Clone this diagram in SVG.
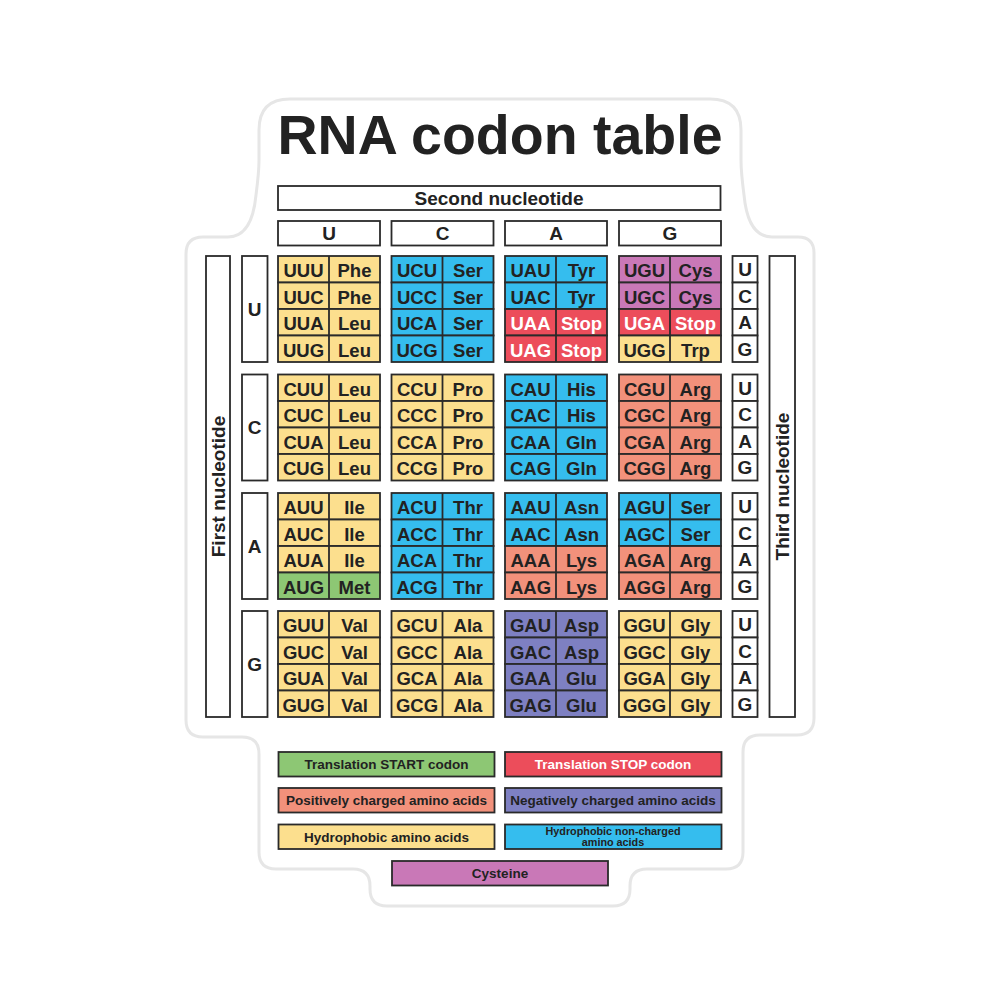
<svg xmlns="http://www.w3.org/2000/svg" width="1000" height="1000" viewBox="0 0 1000 1000">
<style>
.bg{fill:#fff}
.sticker{fill:#fff;stroke:#e6e6e6;stroke-width:3;stroke-linejoin:round}
.box{fill:#fff;stroke:#2a2a2a;stroke-width:1.8}
.c{stroke:#2a2a2a;stroke-width:1.8}
.ln{stroke:#2a2a2a;stroke-width:1.8}
.hy{fill:#fcdf8e}
.hn{fill:#35bdee}
.st{fill:#ec4d5b}
.po{fill:#f2917b}
.ne{fill:#7e80c2}
.cy{fill:#c978b7}
.sa{fill:#8dc774}
text{font-family:"Liberation Sans",Arial,sans-serif;font-weight:bold;fill:#222;text-anchor:middle}
.t{font-size:18.5px}
.w{font-size:18.5px;fill:#fff}
.h{font-size:19px}
.lg{font-size:13.5px}
.lgw{font-size:13.5px;fill:#fff}
.lgs{font-size:10.8px}
</style>
<rect class="bg" x="0" y="0" width="1000" height="1000"/>
<path class="sticker" d="M290 99 L710 99 Q741 99 741 130 L741 160 Q741 172 744 195 Q748 237 772 237 L798 237 Q814 237 814 253 L814 718 Q814 735 797 735 L760 735 Q743 735 743 752 L743 852 Q743 869 726 869 L647 869 Q630 869 630 886 L630 889 Q630 906 613 906 L387 906 Q370 906 370 889 L370 886 Q370 869 353 869 L276 869 Q259 869 259 852 L259 754 Q259 737 242 737 L203 737 Q186 737 186 720 L186 254 Q186 237 203 237 L228 237 Q252 237 256 195 Q259 172 259 160 L259 130 Q259 99 290 99 Z"/>
<g id="title"><text x="500" y="154" style="font-size:55.5px">RNA codon table</text></g>
<g id="second-nucleotide"><rect class="box" x="278" y="186" width="442.5" height="24"/><text class="h" x="499" y="204.5">Second nucleotide</text></g>
<g id="col-headers">
<rect class="box" x="278" y="221" width="102" height="24.5"/><text class="h" x="329" y="240">U</text>
<rect class="box" x="391.5" y="221" width="102" height="24.5"/><text class="h" x="442.5" y="240">C</text>
<rect class="box" x="505" y="221" width="102" height="24.5"/><text class="h" x="556" y="240">A</text>
<rect class="box" x="619" y="221" width="102" height="24.5"/><text class="h" x="670" y="240">G</text>
</g>
<g id="first-nucleotide"><rect class="box" x="206" y="256" width="24" height="461"/><text class="h" transform="translate(225 486.5) rotate(-90)">First nucleotide</text></g>
<g id="third-nucleotide"><rect class="box" x="769.5" y="256" width="25.5" height="461"/><text class="h" transform="translate(789 486.5) rotate(-90)">Third nucleotide</text></g>
<g id="first-letters">
<rect class="box" x="242" y="256" width="25.5" height="106"/><text class="h" x="254.7" y="315.5">U</text>
<rect class="box" x="242" y="374.5" width="25.5" height="106"/><text class="h" x="254.7" y="434">C</text>
<rect class="box" x="242" y="493" width="25.5" height="106"/><text class="h" x="254.7" y="552.5">A</text>
<rect class="box" x="242" y="611" width="25.5" height="106"/><text class="h" x="254.7" y="670.5">G</text>
</g>
<g id="third-letters">
<rect class="box" x="732.5" y="256" width="25" height="26.5"/><text class="h" x="745" y="276">U</text>
<rect class="box" x="732.5" y="282.5" width="25" height="26.5"/><text class="h" x="745" y="302.5">C</text>
<rect class="box" x="732.5" y="309" width="25" height="26.5"/><text class="h" x="745" y="329">A</text>
<rect class="box" x="732.5" y="335.5" width="25" height="26.5"/><text class="h" x="745" y="355.5">G</text>
<rect class="box" x="732.5" y="374.5" width="25" height="26.5"/><text class="h" x="745" y="394.5">U</text>
<rect class="box" x="732.5" y="401" width="25" height="26.5"/><text class="h" x="745" y="421">C</text>
<rect class="box" x="732.5" y="427.5" width="25" height="26.5"/><text class="h" x="745" y="447.5">A</text>
<rect class="box" x="732.5" y="454" width="25" height="26.5"/><text class="h" x="745" y="474">G</text>
<rect class="box" x="732.5" y="493" width="25" height="26.5"/><text class="h" x="745" y="513">U</text>
<rect class="box" x="732.5" y="519.5" width="25" height="26.5"/><text class="h" x="745" y="539.5">C</text>
<rect class="box" x="732.5" y="546" width="25" height="26.5"/><text class="h" x="745" y="566">A</text>
<rect class="box" x="732.5" y="572.5" width="25" height="26.5"/><text class="h" x="745" y="592.5">G</text>
<rect class="box" x="732.5" y="611" width="25" height="26.5"/><text class="h" x="745" y="631">U</text>
<rect class="box" x="732.5" y="637.5" width="25" height="26.5"/><text class="h" x="745" y="657.5">C</text>
<rect class="box" x="732.5" y="664" width="25" height="26.5"/><text class="h" x="745" y="684">A</text>
<rect class="box" x="732.5" y="690.5" width="25" height="26.5"/><text class="h" x="745" y="710.5">G</text>
</g>

<!-- Column U -->
<g id="block-UU">
<rect class="c hy" x="278" y="256" width="102" height="26.5"/><rect class="c hy" x="278" y="282.5" width="102" height="26.5"/><rect class="c hy" x="278" y="309" width="102" height="26.5"/><rect class="c hy" x="278" y="335.5" width="102" height="26.5"/>
<line class="ln" x1="329" y1="256" x2="329" y2="362"/>
<text class="t" x="303.5" y="277">UUU</text><text class="t" x="354.5" y="277">Phe</text>
<text class="t" x="303.5" y="303.5">UUC</text><text class="t" x="354.5" y="303.5">Phe</text>
<text class="t" x="303.5" y="330">UUA</text><text class="t" x="354.5" y="330">Leu</text>
<text class="t" x="303.5" y="356.5">UUG</text><text class="t" x="354.5" y="356.5">Leu</text>
</g>
<g id="block-CU">
<rect class="c hy" x="278" y="374.5" width="102" height="26.5"/><rect class="c hy" x="278" y="401" width="102" height="26.5"/><rect class="c hy" x="278" y="427.5" width="102" height="26.5"/><rect class="c hy" x="278" y="454" width="102" height="26.5"/>
<line class="ln" x1="329" y1="374.5" x2="329" y2="480.5"/>
<text class="t" x="303.5" y="395.5">CUU</text><text class="t" x="354.5" y="395.5">Leu</text>
<text class="t" x="303.5" y="422">CUC</text><text class="t" x="354.5" y="422">Leu</text>
<text class="t" x="303.5" y="448.5">CUA</text><text class="t" x="354.5" y="448.5">Leu</text>
<text class="t" x="303.5" y="475">CUG</text><text class="t" x="354.5" y="475">Leu</text>
</g>
<g id="block-AU">
<rect class="c hy" x="278" y="493" width="102" height="26.5"/><rect class="c hy" x="278" y="519.5" width="102" height="26.5"/><rect class="c hy" x="278" y="546" width="102" height="26.5"/><rect class="c sa" x="278" y="572.5" width="102" height="26.5"/>
<line class="ln" x1="329" y1="493" x2="329" y2="599"/>
<text class="t" x="303.5" y="514">AUU</text><text class="t" x="354.5" y="514">Ile</text>
<text class="t" x="303.5" y="540.5">AUC</text><text class="t" x="354.5" y="540.5">Ile</text>
<text class="t" x="303.5" y="567">AUA</text><text class="t" x="354.5" y="567">Ile</text>
<text class="t" x="303.5" y="593.5">AUG</text><text class="t" x="354.5" y="593.5">Met</text>
</g>
<g id="block-GU">
<rect class="c hy" x="278" y="611" width="102" height="26.5"/><rect class="c hy" x="278" y="637.5" width="102" height="26.5"/><rect class="c hy" x="278" y="664" width="102" height="26.5"/><rect class="c hy" x="278" y="690.5" width="102" height="26.5"/>
<line class="ln" x1="329" y1="611" x2="329" y2="717"/>
<text class="t" x="303.5" y="632">GUU</text><text class="t" x="354.5" y="632">Val</text>
<text class="t" x="303.5" y="658.5">GUC</text><text class="t" x="354.5" y="658.5">Val</text>
<text class="t" x="303.5" y="685">GUA</text><text class="t" x="354.5" y="685">Val</text>
<text class="t" x="303.5" y="711.5">GUG</text><text class="t" x="354.5" y="711.5">Val</text>
</g>

<!-- Column C -->
<g id="block-UC">
<rect class="c hn" x="391.5" y="256" width="102" height="26.5"/><rect class="c hn" x="391.5" y="282.5" width="102" height="26.5"/><rect class="c hn" x="391.5" y="309" width="102" height="26.5"/><rect class="c hn" x="391.5" y="335.5" width="102" height="26.5"/>
<line class="ln" x1="442.5" y1="256" x2="442.5" y2="362"/>
<text class="t" x="417" y="277">UCU</text><text class="t" x="468" y="277">Ser</text>
<text class="t" x="417" y="303.5">UCC</text><text class="t" x="468" y="303.5">Ser</text>
<text class="t" x="417" y="330">UCA</text><text class="t" x="468" y="330">Ser</text>
<text class="t" x="417" y="356.5">UCG</text><text class="t" x="468" y="356.5">Ser</text>
</g>
<g id="block-CC">
<rect class="c hy" x="391.5" y="374.5" width="102" height="26.5"/><rect class="c hy" x="391.5" y="401" width="102" height="26.5"/><rect class="c hy" x="391.5" y="427.5" width="102" height="26.5"/><rect class="c hy" x="391.5" y="454" width="102" height="26.5"/>
<line class="ln" x1="442.5" y1="374.5" x2="442.5" y2="480.5"/>
<text class="t" x="417" y="395.5">CCU</text><text class="t" x="468" y="395.5">Pro</text>
<text class="t" x="417" y="422">CCC</text><text class="t" x="468" y="422">Pro</text>
<text class="t" x="417" y="448.5">CCA</text><text class="t" x="468" y="448.5">Pro</text>
<text class="t" x="417" y="475">CCG</text><text class="t" x="468" y="475">Pro</text>
</g>
<g id="block-AC">
<rect class="c hn" x="391.5" y="493" width="102" height="26.5"/><rect class="c hn" x="391.5" y="519.5" width="102" height="26.5"/><rect class="c hn" x="391.5" y="546" width="102" height="26.5"/><rect class="c hn" x="391.5" y="572.5" width="102" height="26.5"/>
<line class="ln" x1="442.5" y1="493" x2="442.5" y2="599"/>
<text class="t" x="417" y="514">ACU</text><text class="t" x="468" y="514">Thr</text>
<text class="t" x="417" y="540.5">ACC</text><text class="t" x="468" y="540.5">Thr</text>
<text class="t" x="417" y="567">ACA</text><text class="t" x="468" y="567">Thr</text>
<text class="t" x="417" y="593.5">ACG</text><text class="t" x="468" y="593.5">Thr</text>
</g>
<g id="block-GC">
<rect class="c hy" x="391.5" y="611" width="102" height="26.5"/><rect class="c hy" x="391.5" y="637.5" width="102" height="26.5"/><rect class="c hy" x="391.5" y="664" width="102" height="26.5"/><rect class="c hy" x="391.5" y="690.5" width="102" height="26.5"/>
<line class="ln" x1="442.5" y1="611" x2="442.5" y2="717"/>
<text class="t" x="417" y="632">GCU</text><text class="t" x="468" y="632">Ala</text>
<text class="t" x="417" y="658.5">GCC</text><text class="t" x="468" y="658.5">Ala</text>
<text class="t" x="417" y="685">GCA</text><text class="t" x="468" y="685">Ala</text>
<text class="t" x="417" y="711.5">GCG</text><text class="t" x="468" y="711.5">Ala</text>
</g>

<!-- Column A -->
<g id="block-UA">
<rect class="c hn" x="505" y="256" width="102" height="26.5"/><rect class="c hn" x="505" y="282.5" width="102" height="26.5"/><rect class="c st" x="505" y="309" width="102" height="26.5"/><rect class="c st" x="505" y="335.5" width="102" height="26.5"/>
<line class="ln" x1="556" y1="256" x2="556" y2="362"/>
<text class="t" x="530.5" y="277">UAU</text><text class="t" x="581.5" y="277">Tyr</text>
<text class="t" x="530.5" y="303.5">UAC</text><text class="t" x="581.5" y="303.5">Tyr</text>
<text class="w" x="530.5" y="330">UAA</text><text class="w" x="581.5" y="330">Stop</text>
<text class="w" x="530.5" y="356.5">UAG</text><text class="w" x="581.5" y="356.5">Stop</text>
</g>
<g id="block-CA">
<rect class="c hn" x="505" y="374.5" width="102" height="26.5"/><rect class="c hn" x="505" y="401" width="102" height="26.5"/><rect class="c hn" x="505" y="427.5" width="102" height="26.5"/><rect class="c hn" x="505" y="454" width="102" height="26.5"/>
<line class="ln" x1="556" y1="374.5" x2="556" y2="480.5"/>
<text class="t" x="530.5" y="395.5">CAU</text><text class="t" x="581.5" y="395.5">His</text>
<text class="t" x="530.5" y="422">CAC</text><text class="t" x="581.5" y="422">His</text>
<text class="t" x="530.5" y="448.5">CAA</text><text class="t" x="581.5" y="448.5">Gln</text>
<text class="t" x="530.5" y="475">CAG</text><text class="t" x="581.5" y="475">Gln</text>
</g>
<g id="block-AA">
<rect class="c hn" x="505" y="493" width="102" height="26.5"/><rect class="c hn" x="505" y="519.5" width="102" height="26.5"/><rect class="c po" x="505" y="546" width="102" height="26.5"/><rect class="c po" x="505" y="572.5" width="102" height="26.5"/>
<line class="ln" x1="556" y1="493" x2="556" y2="599"/>
<text class="t" x="530.5" y="514">AAU</text><text class="t" x="581.5" y="514">Asn</text>
<text class="t" x="530.5" y="540.5">AAC</text><text class="t" x="581.5" y="540.5">Asn</text>
<text class="t" x="530.5" y="567">AAA</text><text class="t" x="581.5" y="567">Lys</text>
<text class="t" x="530.5" y="593.5">AAG</text><text class="t" x="581.5" y="593.5">Lys</text>
</g>
<g id="block-GA">
<rect class="c ne" x="505" y="611" width="102" height="26.5"/><rect class="c ne" x="505" y="637.5" width="102" height="26.5"/><rect class="c ne" x="505" y="664" width="102" height="26.5"/><rect class="c ne" x="505" y="690.5" width="102" height="26.5"/>
<line class="ln" x1="556" y1="611" x2="556" y2="717"/>
<text class="t" x="530.5" y="632">GAU</text><text class="t" x="581.5" y="632">Asp</text>
<text class="t" x="530.5" y="658.5">GAC</text><text class="t" x="581.5" y="658.5">Asp</text>
<text class="t" x="530.5" y="685">GAA</text><text class="t" x="581.5" y="685">Glu</text>
<text class="t" x="530.5" y="711.5">GAG</text><text class="t" x="581.5" y="711.5">Glu</text>
</g>

<!-- Column G -->
<g id="block-UG">
<rect class="c cy" x="619" y="256" width="102" height="26.5"/><rect class="c cy" x="619" y="282.5" width="102" height="26.5"/><rect class="c st" x="619" y="309" width="102" height="26.5"/><rect class="c hy" x="619" y="335.5" width="102" height="26.5"/>
<line class="ln" x1="670" y1="256" x2="670" y2="362"/>
<text class="t" x="644.5" y="277">UGU</text><text class="t" x="695.5" y="277">Cys</text>
<text class="t" x="644.5" y="303.5">UGC</text><text class="t" x="695.5" y="303.5">Cys</text>
<text class="w" x="644.5" y="330">UGA</text><text class="w" x="695.5" y="330">Stop</text>
<text class="t" x="644.5" y="356.5">UGG</text><text class="t" x="695.5" y="356.5">Trp</text>
</g>
<g id="block-CG">
<rect class="c po" x="619" y="374.5" width="102" height="26.5"/><rect class="c po" x="619" y="401" width="102" height="26.5"/><rect class="c po" x="619" y="427.5" width="102" height="26.5"/><rect class="c po" x="619" y="454" width="102" height="26.5"/>
<line class="ln" x1="670" y1="374.5" x2="670" y2="480.5"/>
<text class="t" x="644.5" y="395.5">CGU</text><text class="t" x="695.5" y="395.5">Arg</text>
<text class="t" x="644.5" y="422">CGC</text><text class="t" x="695.5" y="422">Arg</text>
<text class="t" x="644.5" y="448.5">CGA</text><text class="t" x="695.5" y="448.5">Arg</text>
<text class="t" x="644.5" y="475">CGG</text><text class="t" x="695.5" y="475">Arg</text>
</g>
<g id="block-AG">
<rect class="c hn" x="619" y="493" width="102" height="26.5"/><rect class="c hn" x="619" y="519.5" width="102" height="26.5"/><rect class="c po" x="619" y="546" width="102" height="26.5"/><rect class="c po" x="619" y="572.5" width="102" height="26.5"/>
<line class="ln" x1="670" y1="493" x2="670" y2="599"/>
<text class="t" x="644.5" y="514">AGU</text><text class="t" x="695.5" y="514">Ser</text>
<text class="t" x="644.5" y="540.5">AGC</text><text class="t" x="695.5" y="540.5">Ser</text>
<text class="t" x="644.5" y="567">AGA</text><text class="t" x="695.5" y="567">Arg</text>
<text class="t" x="644.5" y="593.5">AGG</text><text class="t" x="695.5" y="593.5">Arg</text>
</g>
<g id="block-GG">
<rect class="c hy" x="619" y="611" width="102" height="26.5"/><rect class="c hy" x="619" y="637.5" width="102" height="26.5"/><rect class="c hy" x="619" y="664" width="102" height="26.5"/><rect class="c hy" x="619" y="690.5" width="102" height="26.5"/>
<line class="ln" x1="670" y1="611" x2="670" y2="717"/>
<text class="t" x="644.5" y="632">GGU</text><text class="t" x="695.5" y="632">Gly</text>
<text class="t" x="644.5" y="658.5">GGC</text><text class="t" x="695.5" y="658.5">Gly</text>
<text class="t" x="644.5" y="685">GGA</text><text class="t" x="695.5" y="685">Gly</text>
<text class="t" x="644.5" y="711.5">GGG</text><text class="t" x="695.5" y="711.5">Gly</text>
</g>

<g id="legend">
<g id="leg-start"><rect class="c sa" x="278.5" y="752" width="216" height="24.5"/><text class="lg" x="386.5" y="769">Translation START codon</text></g>
<g id="leg-stop"><rect class="c st" x="505" y="752" width="216.5" height="24.5"/><text class="lgw" x="613" y="769">Translation STOP codon</text></g>
<g id="leg-pos"><rect class="c po" x="278.5" y="788" width="216" height="24.5"/><text class="lg" x="386.5" y="805">Positively charged amino acids</text></g>
<g id="leg-neg"><rect class="c ne" x="505" y="788" width="216.5" height="24.5"/><text class="lg" x="613" y="805">Negatively charged amino acids</text></g>
<g id="leg-hy"><rect class="c hy" x="278.5" y="824.5" width="216" height="24.5"/><text class="lg" x="386.5" y="841.5">Hydrophobic amino acids</text></g>
<g id="leg-hn"><rect class="c hn" x="505" y="824.5" width="216.5" height="24.5"/><text class="lgs" x="613" y="835">Hydrophobic non-charged</text><text class="lgs" x="613" y="845.5">amino acids</text></g>
<g id="leg-cys"><rect class="c cy" x="392" y="861" width="216" height="24.5"/><text class="lg" x="500" y="878">Cysteine</text></g>
</g>
</svg>
